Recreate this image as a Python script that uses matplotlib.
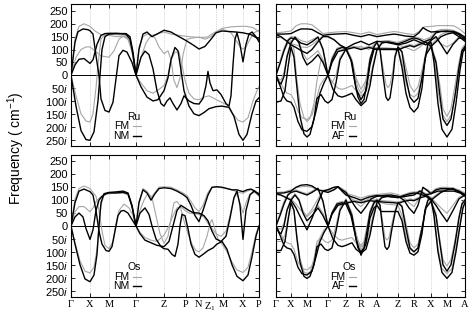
import matplotlib
matplotlib.use("Agg")
import matplotlib.pyplot as plt

plt.rcParams['font.family'] = ['Liberation Sans', 'DejaVu Sans']
plt.rcParams['mathtext.fontset'] = 'custom'
plt.rcParams['mathtext.rm'] = 'Liberation Serif'
plt.rcParams['mathtext.it'] = 'Liberation Sans:italic'
plt.rcParams['mathtext.sf'] = 'Liberation Sans'

# k-path (cumulative length along the path) and labels
bct_ticks = [0, 19, 38, 65, 93, 115, 128, 145, 152, 172, 188]
bct_labels = ['Γ', 'X', 'M', 'Γ', 'Z', 'P', 'N', r'Z$_1$', 'M', 'X', 'P']
st_ticks = [0, 15, 31, 52, 70, 85, 101, 122, 138, 155, 171, 189]
st_labels = ['Γ', 'X', 'M', 'Γ', 'Z', 'R', 'A', 'Z', 'R', 'X', 'M', 'A']

freq_ticks = [-250, -200, -150, -100, -50, 0, 50, 100, 150, 200, 250]

# ---- Ru, FM vs NM (bct cell); imaginary modes stored as negative values
ru_fm = [
    [(0,0),(4,140),(8,190),(13,200),(19,190),(24,172),(30,158),(38,155),(45,150),(55,150),(60,125),(65,0)],
    [(0,0),(5,70),(10,100),(15,110),(19,110),(24,95),(30,75),(38,70),(43,95),(48,140),(52,152),(57,140),(61,90),(65,0)],
    [(0,0),(5,-80),(10,-150),(15,-178),(19,-182),(22,-150),(25,-50),(27,40),(30,140),(34,158),(38,160),(45,158),(55,155),(60,120),(65,0)],
    [(65,0),(68,110),(72,150),(76,160),(81,155),(86,160),(93,168),(100,160),(108,155),(118,150),(128,147),(136,148),(143,165),(151,182),(160,188),(168,190),(176,190),(182,185),(188,170)],
    [(65,0),(70,70),(75,125),(80,155),(84,145),(88,110),(93,84),(97,95),(100,60),(103,-20),(106,-48),(109,-10),(112,80),(116,140),(122,145),(128,148),(134,140),(140,150),(146,170),(152,178),(160,165),(166,130),(169,110),(172,102),(175,110),(179,140),(183,165),(188,175)],
    [(65,0),(70,-30),(76,-60),(82,-70),(88,-55),(93,-40),(97,0),(100,60),(104,90),(108,90),(111,40),(114,-20),(118,-70),(123,-92),(128,-95),(133,-85),(138,-80),(143,-90),(148,-100),(153,-110),(158,-120),(162,-150),(167,-175),(172,-182),(177,-165),(182,-100),(186,-60),(188,-45)],
]
ru_nm = [
    [(0,0),(4,128),(7,169),(12,180),(17,177),(19,173),(22,160),(25,76),(28,0),(30,-92),(34,-137),(38,-143),(42,-105),(45,-14),(48,76),(52,97),(56,90),(61,50),(65,0)],
    [(0,0),(5,-120),(10,-215),(15,-250),(19,-253),(23,-220),(27,-100),(29,0),(31,100),(34,150),(38,160),(45,162),(55,162),(59,150),(62,90),(65,0)],
    [(0,0),(4,40),(8,62),(13,65),(19,46),(22,60),(26,120),(30,155),(34,162),(38,163),(45,163),(55,160),(59,140),(62,80),(65,0)],
    [(65,0),(68,100),(72,160),(76,168),(81,150),(86,160),(93,175),(100,168),(108,150),(115,135),(122,118),(128,102),(134,112),(140,140),(145,165),(151,172),(158,170),(165,168),(172,165),(180,158),(188,140)],
    [(65,0),(70,70),(74,94),(78,80),(82,25),(86,-60),(90,-110),(93,-120),(96,-100),(99,-88),(102,-110),(106,-135),(110,-110),(113,-80),(118,-100),(123,-110),(128,-112),(132,-90),(135,-40),(137,15),(139,-30),(142,-60),(146,-57),(150,-75),(155,-110),(158,-120),(160,-80),(162,40),(164,140),(166,165),(169,120),(172,52),(175,120),(178,160),(181,168),(185,150),(188,130)],
    [(65,0),(70,-45),(76,-85),(82,-100),(87,-95),(93,-60),(97,-10),(100,60),(104,108),(107,95),(110,20),(113,-60),(118,-120),(123,-150),(128,-157),(133,-145),(138,-130),(145,-122),(151,-120),(158,-125),(163,-160),(168,-230),(172,-253),(176,-230),(181,-150),(185,-100),(188,-88)],
]

# ---- Ru, FM vs AF (doubled simple tetragonal cell)
ru_fm2 = [
    [(0,165),(8,168),(15,172),(20,192),(25,200),(31,200),(36,196),(42,178),(47,162),(52,165),(60,168),(70,170),(78,165),(85,160),(93,168),(101,158),(110,165),(118,170),(122,168),(130,162),(138,158),(143,170),(148,188),(155,190),(162,193),(171,193),(178,192),(184,178),(189,162)],
    [(0,155),(5,146),(10,135),(15,122),(20,118),(25,110),(31,108),(36,118),(42,138),(47,152),(52,152),(58,140),(64,115),(70,102),(78,108),(85,112),(93,100),(101,130),(110,135),(118,128),(122,118),(130,108),(138,95),(144,110),(150,130),(155,150),(160,140),(165,122),(171,110),(177,125),(183,150),(189,152)],
    [(0,0),(4,50),(8,95),(12,125),(15,135),(18,100),(21,-20),(24,-110),(28,-165),(31,-180),(34,-168),(38,-110),(41,-20),(45,60),(49,40),(52,0),(56,-30),(60,0),(64,70),(70,100),(76,60),(80,-10),(85,-55),(90,-20),(94,60),(98,105),(101,108),(110,105),(118,104),(122,104),(126,50),(130,-30),(134,-75),(138,-85),(142,-70),(146,-10),(149,70),(152,125),(155,135),(158,70),(162,-60),(166,-150),(171,-180),(176,-150),(180,-60),(184,40),(187,100),(189,112)],
    [(0,0),(3,-15),(5,-18),(8,10),(11,80),(15,130),(19,150),(23,130),(27,85),(31,60),(36,75),(42,95),(47,60),(52,0),(56,70),(61,105),(66,112),(70,108),(75,70),(79,0),(82,-50),(85,-70),(88,-55),(91,0),(94,70),(98,115),(101,128),(104,105),(107,30),(110,-35),(112,-48),(114,-38),(117,20),(119,80),(122,112),(126,95),(130,30),(134,-40),(138,-65),(142,-45),(146,20),(150,90),(155,118),(160,60),(164,-40),(167,-130),(171,-160),(175,-130),(179,-40),(183,50),(186,105),(189,120)],
    [(0,0),(4,-25),(8,-55),(11,-70),(15,-75),(18,-95),(22,-140),(26,-165),(31,-172),(36,-155),(40,-100),(44,-40),(48,-15),(52,0),(56,55),(62,95),(70,104),(78,112),(85,105),(93,112),(101,105),(110,106),(118,104),(122,100),(128,112),(134,120),(138,115),(145,128),(150,132),(155,118),(160,138),(165,158),(171,168),(177,172),(183,158),(189,140)],
    [(0,0),(4,55),(8,105),(12,140),(15,150),(20,148),(25,135),(31,128),(36,138),(42,150),(47,105),(52,0),(57,-30),(62,-50),(66,-55),(70,-50),(76,-40),(80,-60),(85,-80),(90,-65),(94,-15),(97,40),(101,105),(106,130),(112,135),(118,130),(122,128),(128,136),(134,145),(138,150),(143,145),(148,138),(155,148),(160,172),(165,178),(171,178),(177,175),(183,165),(189,148)],
]
ru_af = [
    [(0,160),(8,160),(15,162),(20,172),(25,180),(31,180),(36,178),(42,165),(47,155),(52,158),(60,160),(70,162),(78,155),(85,150),(93,158),(101,150),(110,156),(118,160),(122,158),(130,152),(138,150),(143,165),(147,185),(151,175),(155,168),(162,170),(171,172),(178,170),(184,160),(189,148)],
    [(0,158),(5,150),(10,135),(15,118),(20,108),(25,96),(31,85),(36,100),(42,130),(47,150),(52,150),(58,138),(64,118),(70,105),(78,122),(85,132),(93,118),(101,132),(110,128),(118,122),(122,118),(130,125),(138,138),(144,128),(150,118),(155,135),(160,150),(165,120),(171,83),(177,120),(183,145),(189,140)],
    [(0,-105),(5,-100),(9,-60),(12,30),(15,110),(18,70),(21,-50),(24,-160),(28,-228),(31,-240),(34,-230),(38,-170),(41,-90),(45,-75),(49,-100),(52,-108),(56,-95),(60,-30),(64,60),(70,102),(76,50),(80,-50),(85,-95),(90,-60),(94,40),(98,100),(101,102),(110,102),(118,102),(122,102),(126,30),(130,-70),(134,-125),(138,-143),(142,-125),(146,-50),(149,60),(152,120),(155,128),(158,50),(162,-110),(166,-210),(171,-240),(176,-210),(180,-110),(184,20),(187,90),(189,105)],
    [(0,0),(3,-28),(5,-34),(8,-5),(11,70),(15,125),(19,148),(23,125),(27,70),(31,40),(36,55),(42,80),(47,50),(52,0),(56,60),(61,100),(66,108),(70,104),(75,60),(79,-30),(82,-85),(85,-110),(88,-95),(91,-30),(94,60),(98,110),(101,128),(104,100),(107,0),(110,-85),(112,-98),(114,-88),(117,-10),(119,70),(122,110),(126,90),(130,-10),(134,-85),(138,-105),(142,-90),(146,-10),(150,80),(155,110),(160,50),(164,-80),(167,-170),(171,-195),(175,-170),(179,-80),(183,30),(186,95),(189,112)],
    [(0,0),(4,-40),(8,-85),(11,-100),(15,-105),(18,-125),(22,-180),(26,-212),(31,-218),(36,-200),(40,-140),(44,-70),(48,-30),(52,0),(56,50),(62,92),(70,100),(78,108),(85,100),(93,108),(101,100),(110,100),(118,100),(122,98),(128,108),(134,115),(138,110),(145,122),(150,128),(155,112),(160,130),(165,150),(171,160),(177,165),(183,150),(189,132)],
    [(0,0),(4,45),(8,95),(12,135),(15,145),(20,140),(25,125),(31,118),(36,130),(42,148),(47,100),(52,0),(57,-55),(62,-80),(66,-85),(70,-80),(76,-70),(80,-95),(85,-118),(90,-100),(94,-40),(97,30),(101,100),(106,125),(112,130),(118,125),(122,122),(128,130),(134,140),(138,145),(143,140),(148,130),(155,140),(160,165),(165,170),(171,170),(177,168),(183,158),(189,140)],
]

# ---- Os, FM vs NM (bct cell)
os_fm = [
    [(0,0),(4,105),(8,145),(13,155),(19,145),(22,130),(25,115),(28,60),(31,-20),(34,-75),(38,-88),(42,-60),(45,10),(48,60),(53,85),(58,70),(62,40),(65,0)],
    [(0,0),(4,-65),(9,-135),(14,-175),(19,-182),(23,-160),(26,-90),(28,0),(30,80),(33,120),(38,127),(45,130),(52,132),(57,125),(61,80),(65,0)],
    [(0,0),(4,55),(8,75),(13,75),(19,55),(22,70),(25,95),(29,110),(33,120),(38,125),(45,127),(52,128),(57,120),(61,75),(65,0)],
    [(65,0),(68,95),(72,145),(76,135),(80,110),(84,130),(88,150),(93,152),(100,150),(106,140),(112,128),(116,118),(120,95),(124,70),(128,56),(132,80),(137,130),(141,150),(146,150),(151,148),(156,145),(161,140),(166,132),(170,128),(172,127),(176,135),(180,140),(184,130),(188,115)],
    [(65,0),(69,60),(73,100),(77,127),(81,110),(85,40),(89,-30),(93,-67),(97,-40),(100,30),(103,90),(106,95),(109,80),(113,20),(117,-30),(121,-70),(125,-95),(128,-100),(132,-85),(136,-40),(139,10),(141,25),(143,0),(147,-50),(151,-70),(156,-100),(161,-140),(166,-170),(172,-180),(177,-160),(181,-100),(185,-30),(188,0)],
    [(65,0),(69,-25),(74,-45),(80,-55),(86,-60),(93,-36),(98,0),(102,40),(106,70),(110,75),(114,60),(118,50),(122,48),(128,45),(133,35),(137,10),(141,-10),(145,-30),(150,-40),(155,-20),(159,40),(163,110),(166,125),(169,90),(172,50),(175,90),(179,125),(183,130),(188,120)],
]
os_nm = [
    [(0,0),(4,90),(8,135),(13,143),(19,133),(22,120),(25,60),(28,-20),(31,-70),(35,-95),(38,-98),(41,-80),(44,-20),(47,40),(50,58),(53,60),(57,50),(61,25),(65,0)],
    [(0,0),(4,-70),(9,-150),(14,-205),(19,-216),(23,-190),(26,-110),(28,0),(30,90),(33,125),(38,130),(45,132),(52,135),(57,128),(61,80),(65,0)],
    [(0,0),(4,35),(8,50),(12,35),(15,-10),(19,-52),(22,-15),(25,60),(28,100),(31,115),(35,125),(38,128),(45,128),(52,130),(57,125),(61,75),(65,0)],
    [(65,0),(68,90),(72,140),(76,128),(80,100),(84,125),(88,145),(93,148),(100,145),(106,135),(112,122),(116,110),(120,80),(124,40),(128,17),(132,60),(137,120),(141,150),(146,152),(151,150),(156,145),(161,140),(166,140),(170,135),(172,133),(176,140),(180,143),(184,135),(188,120)],
    [(65,0),(69,50),(74,70),(78,45),(81,0),(85,-50),(90,-80),(93,-88),(97,-90),(101,-110),(104,-118),(107,-70),(109,0),(111,45),(114,40),(117,-10),(120,-70),(124,-110),(128,-121),(132,-110),(137,-95),(142,-85),(146,-70),(151,-60),(156,-90),(161,-150),(166,-195),(172,-212),(177,-190),(181,-120),(185,-40),(188,0)],
    [(65,0),(69,-30),(74,-55),(80,-65),(86,-75),(93,-80),(98,-60),(102,0),(106,60),(110,80),(114,70),(118,60),(122,52),(128,50),(133,40),(137,20),(141,-20),(145,-50),(150,-60),(155,-40),(159,30),(163,110),(166,135),(169,80),(172,-52),(175,60),(179,120),(183,135),(188,125)],
]

# ---- Os, FM vs AF
os_fm2 = [
    [(0,130),(8,132),(15,140),(20,148),(25,152),(31,153),(36,150),(42,140),(47,138),(52,142),(58,150),(62,153),(66,145),(70,135),(75,110),(80,90),(85,75),(90,95),(95,115),(101,122),(108,125),(115,128),(122,122),(128,110),(133,90),(138,75),(142,100),(147,148),(152,140),(155,130),(162,140),(171,142),(178,140),(184,132),(189,122)],
    [(0,122),(5,118),(10,112),(15,105),(20,85),(25,60),(31,40),(36,65),(42,105),(47,138),(52,135),(58,142),(62,150),(66,138),(70,125),(78,118),(85,108),(93,118),(101,122),(110,120),(118,118),(122,115),(130,120),(138,125),(144,138),(150,125),(155,110),(160,90),(165,70),(171,49),(177,80),(183,112),(189,122)],
    [(0,-60),(5,-60),(9,-35),(12,30),(15,95),(18,60),(21,-40),(24,-125),(28,-178),(31,-184),(34,-178),(38,-130),(41,-60),(45,-45),(49,-60),(52,-65),(56,-55),(60,0),(64,70),(70,105),(76,50),(80,-30),(85,-93),(90,-50),(94,40),(98,85),(101,95),(110,85),(118,82),(122,80),(126,40),(130,-40),(134,-90),(138,-100),(142,-85),(146,-20),(149,65),(152,105),(155,110),(158,50),(162,-85),(166,-165),(171,-184),(176,-165),(180,-85),(184,10),(187,75),(189,95)],
    [(0,0),(3,-10),(5,-12),(8,10),(11,65),(15,105),(19,125),(23,105),(27,60),(31,35),(36,55),(42,80),(47,50),(52,0),(56,55),(61,90),(66,95),(70,90),(75,50),(79,-10),(82,-60),(85,-75),(88,-60),(91,0),(94,60),(98,95),(101,105),(104,85),(107,10),(109,-45),(111,-54),(113,-45),(116,10),(119,60),(122,95),(126,80),(130,10),(134,-65),(138,-85),(142,-70),(146,0),(150,75),(155,100),(160,50),(164,-55),(167,-130),(171,-155),(175,-130),(179,-55),(183,40),(186,90),(189,105)],
    [(0,0),(4,-25),(8,-55),(11,-65),(15,-70),(18,-90),(22,-140),(26,-165),(31,-170),(36,-155),(40,-100),(44,-45),(48,-15),(52,0),(56,50),(62,85),(70,92),(78,100),(85,95),(93,102),(101,100),(110,97),(118,95),(122,92),(128,100),(134,105),(138,102),(145,115),(150,120),(155,105),(160,120),(165,135),(171,145),(177,148),(183,136),(189,120)],
    [(0,0),(4,50),(8,95),(12,125),(15,135),(20,140),(25,132),(31,125),(36,135),(42,148),(47,100),(52,0),(57,-30),(62,-50),(66,-55),(70,-50),(76,-45),(80,-65),(85,-80),(90,-65),(94,-15),(97,40),(101,95),(106,115),(112,120),(118,118),(122,115),(128,122),(134,130),(138,132),(143,130),(148,122),(155,130),(160,145),(165,150),(171,150),(177,147),(183,140),(189,128)],
]
os_af = [
    [(0,127),(8,128),(15,135),(20,150),(25,158),(31,160),(36,155),(42,140),(47,135),(52,140),(58,150),(62,152),(66,140),(70,130),(75,100),(80,70),(85,49),(90,75),(95,105),(101,115),(108,118),(115,120),(122,115),(128,100),(133,70),(138,49),(142,80),(147,150),(152,135),(155,125),(162,135),(171,135),(178,135),(184,128),(189,118)],
    [(0,125),(5,120),(10,110),(15,100),(20,70),(25,30),(31,-15),(36,30),(42,90),(47,135),(52,130),(58,140),(62,152),(66,135),(70,120),(78,110),(85,100),(93,112),(101,118),(110,115),(118,112),(122,110),(130,115),(138,120),(144,135),(150,120),(155,105),(160,80),(165,50),(171,17),(177,60),(183,105),(189,120)],
    [(0,-95),(5,-95),(9,-60),(12,20),(15,90),(18,60),(21,-50),(24,-140),(28,-195),(31,-203),(34,-195),(38,-150),(41,-80),(45,-70),(49,-90),(52,-95),(56,-85),(60,-20),(64,60),(70,100),(76,40),(80,-50),(85,-113),(90,-70),(94,30),(98,70),(101,80),(105,56),(110,56),(118,56),(122,56),(126,20),(130,-60),(134,-105),(138,-113),(142,-100),(146,-30),(149,60),(152,100),(155,105),(158,40),(162,-100),(166,-180),(171,-203),(176,-180),(180,-100),(184,0),(187,70),(189,90)],
    [(0,0),(3,-25),(5,-30),(8,0),(11,60),(15,100),(19,120),(23,100),(27,50),(31,20),(36,40),(42,70),(47,40),(52,0),(56,50),(61,85),(66,90),(70,85),(75,40),(79,-30),(82,-85),(85,-100),(88,-85),(91,-20),(94,50),(98,90),(101,100),(104,80),(107,-20),(109,-80),(111,-91),(113,-80),(116,-10),(119,50),(122,90),(126,75),(130,-10),(134,-85),(138,-100),(142,-85),(146,-10),(150,70),(155,95),(160,40),(164,-70),(167,-150),(171,-175),(175,-150),(179,-70),(183,30),(186,85),(189,100)],
    [(0,0),(4,-35),(8,-75),(11,-85),(15,-90),(18,-110),(22,-160),(26,-185),(31,-190),(36,-175),(40,-120),(44,-60),(48,-25),(52,0),(56,45),(62,80),(70,88),(78,95),(85,90),(93,98),(101,95),(110,92),(118,90),(122,88),(128,95),(134,100),(138,98),(145,110),(150,115),(155,100),(160,115),(165,130),(171,140),(177,145),(183,132),(189,115)],
    [(0,0),(4,40),(8,85),(12,120),(15,130),(20,135),(25,128),(31,120),(36,130),(42,145),(47,95),(52,0),(57,-50),(62,-75),(66,-80),(70,-75),(76,-65),(80,-90),(85,-105),(90,-90),(94,-35),(97,25),(101,90),(106,110),(112,115),(118,112),(122,110),(128,118),(134,125),(138,128),(143,125),(148,118),(155,125),(160,140),(165,145),(171,145),(177,142),(183,135),(189,122)],
]


def freq_label(v):
    if v < 0:
        return '%d$i$' % (-v)
    return '%d' % v


def draw_panel(ax, fm, other, ticks, labels, element, other_name, left, bottom):
    for br in fm:
        k, f = zip(*br)
        ax.plot(k, f, color='#a6a6a6', lw=0.8, zorder=2)
    for br in other:
        k, f = zip(*br)
        ax.plot(k, f, color='black', lw=1.0, zorder=3)
    ax.axhline(0, color='black', lw=0.7, zorder=1)
    for t in ticks[1:-1]:
        ax.axvline(t, color='#b5b5b5', lw=0.5, ls=(0, (1, 1.5)), zorder=0)
    ax.set_xlim(ticks[0], ticks[-1])
    ax.set_ylim(-275, 275)
    ax.set_xticks(ticks)
    if bottom:
        tl = ax.set_xticklabels(labels, fontfamily='Liberation Serif', fontsize=7.5)
        # Z1 and M sit very close together on the bct path
        for lab in tl:
            if lab.get_text() == r'Z$_1$':
                lab.set_ha('right')
    else:
        ax.set_xticklabels([])
    ax.set_yticks(freq_ticks)
    if left:
        ax.set_yticklabels([freq_label(v) for v in freq_ticks], fontsize=8)
    else:
        ax.set_yticklabels([])
    ax.tick_params(direction='in', length=3, width=0.6, top=True, right=True, pad=2)
    for s in ax.spines.values():
        s.set_linewidth(0.8)

    # small gnuplot-like key
    x0 = 0.335 if left else 0.39
    ax.text(x0, 0.208, element, transform=ax.transAxes, fontsize=7.5,
            ha='center', va='center')
    ax.text(x0 - 0.025, 0.142, 'FM', transform=ax.transAxes, fontsize=7.5,
            ha='right', va='center')
    ax.text(x0 - 0.025, 0.074, other_name, transform=ax.transAxes, fontsize=7.5,
            ha='right', va='center')
    ax.plot([x0 - 0.005, x0 + 0.035], [0.142, 0.142], transform=ax.transAxes,
            color='#a6a6a6', lw=0.8)
    ax.plot([x0 - 0.005, x0 + 0.035], [0.074, 0.074], transform=ax.transAxes,
            color='black', lw=1.0)


fig = plt.figure(figsize=(4.72, 3.21), dpi=100)
ax_tl = fig.add_axes([0.1504, 0.5452, 0.3983, 0.4408])
ax_tr = fig.add_axes([0.5847, 0.5452, 0.4004, 0.4408])
ax_bl = fig.add_axes([0.1504, 0.0748, 0.3983, 0.4424])
ax_br = fig.add_axes([0.5847, 0.0748, 0.4004, 0.4424])

draw_panel(ax_tl, ru_fm, ru_nm, bct_ticks, bct_labels, 'Ru', 'NM', True, False)
draw_panel(ax_tr, ru_fm2, ru_af, st_ticks, st_labels, 'Ru', 'AF', False, False)
draw_panel(ax_bl, os_fm, os_nm, bct_ticks, bct_labels, 'Os', 'NM', True, True)
draw_panel(ax_br, os_fm2, os_af, st_ticks, st_labels, 'Os', 'AF', False, True)

fig.text(0.035, 0.54, r'Frequency ( cm$^{\mathsf{-1}}$)', rotation=90,
         ha='center', va='center', fontsize=10)

fig.savefig('out.png', dpi=100)
